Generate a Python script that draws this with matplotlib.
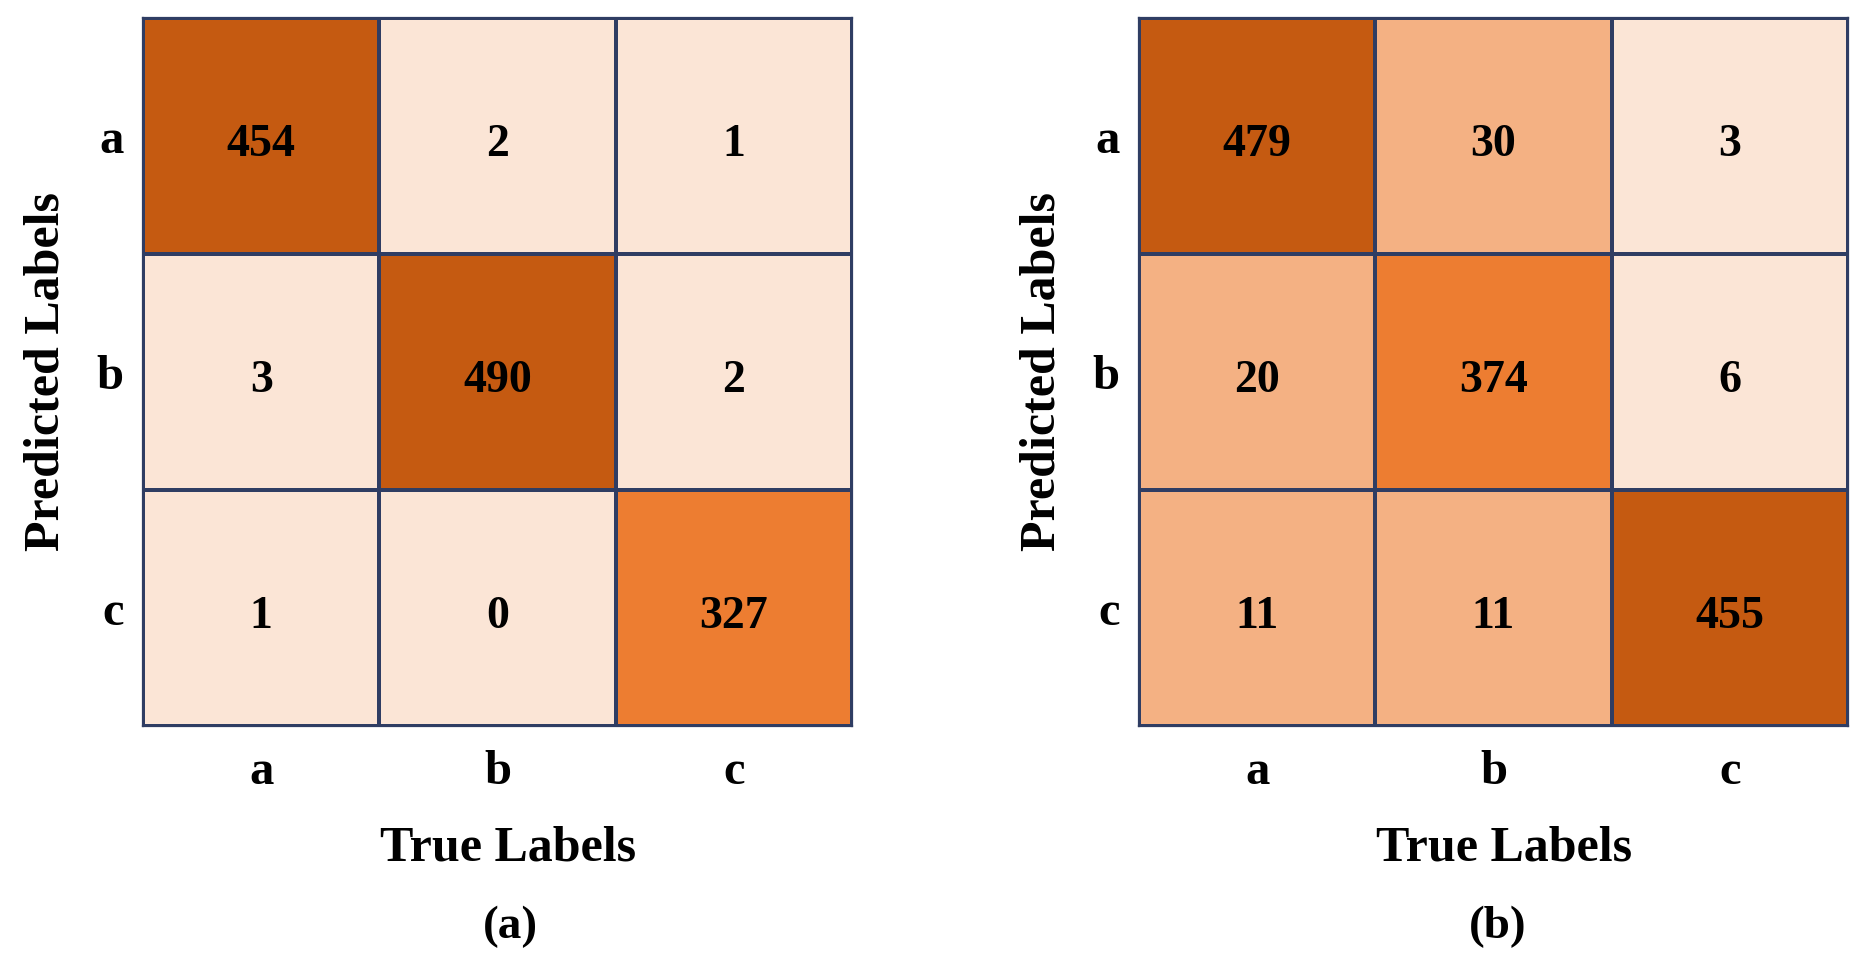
import matplotlib
matplotlib.use('Agg')
import matplotlib.pyplot as plt
from matplotlib.colors import ListedColormap, BoundaryNorm
import numpy as np

plt.rcParams['font.family'] = ['Liberation Serif', 'DejaVu Serif']
plt.rcParams['font.weight'] = 'bold'

class_names = ['a', 'b', 'c']
# rows: predicted label, columns: true label
cm_a = [[454, 2, 1],
        [3, 490, 2],
        [1, 0, 327]]
cm_b = [[479, 30, 3],
        [20, 374, 6],
        [11, 11, 455]]
panel_tags = ['(a)', '(b)']

# discrete orange shades by count
shade_colors = ['#FBE5D6', '#F4B183', '#ED7D31', '#C55A11']
shade_bounds = [0, 10, 100, 400, 10000]
edge_col = '#2F3D63'


def plot_confusion(ax, cm):
    """Draw one confusion matrix as a grid of coloured cells with counts."""
    cm = np.array(cm)
    cmap = ListedColormap(shade_colors)
    norm = BoundaryNorm(shade_bounds, cmap.N)
    ax.pcolormesh(cm, cmap=cmap, norm=norm, edgecolors=edge_col, linewidth=1.6)
    ax.set_xlim(0, cm.shape[1])
    ax.set_ylim(cm.shape[0], 0)
    for i in range(cm.shape[0]):
        for j in range(cm.shape[1]):
            # baseline placed so the digits sit a bit below the cell centre
            ax.text(j + 0.5, i + 0.583, str(cm[i, j]), ha='center', va='baseline',
                    fontsize=33, fontweight='bold', color='black')
    ax.set_xticks(np.arange(len(class_names)) + 0.5)
    ax.set_yticks(np.arange(len(class_names)) + 0.5)
    ax.set_xticklabels(class_names, fontsize=35, fontweight='bold')
    ax.set_yticklabels(class_names, fontsize=35, fontweight='bold')
    ax.tick_params(axis='x', length=0, pad=17)
    ax.tick_params(axis='y', length=0, pad=14)
    for sp in ax.spines.values():
        sp.set_color(edge_col)
        sp.set_linewidth(1.6)
    ax.set_xlabel('True Labels', fontsize=36, fontweight='bold')
    ax.set_ylabel('Predicted Labels', fontsize=36, fontweight='bold')
    ax.xaxis.set_label_coords(0.515, -0.141)
    ax.yaxis.set_label_coords(-0.103, 0.5)


fig = plt.figure(figsize=(18.64, 9.72), dpi=100)
ax1 = fig.add_axes([0.0767, 0.2531, 0.3804, 0.7284])
ax2 = fig.add_axes([0.6110, 0.2531, 0.3804, 0.7284])

plot_confusion(ax1, cm_a)
plot_confusion(ax2, cm_b)

fig.text(0.2736, 0.046, panel_tags[0], ha='center', va='center', fontsize=34, fontweight='bold')
fig.text(0.8036, 0.046, panel_tags[1], ha='center', va='center', fontsize=34, fontweight='bold')

fig.savefig('out.png', dpi=100, facecolor='white')
